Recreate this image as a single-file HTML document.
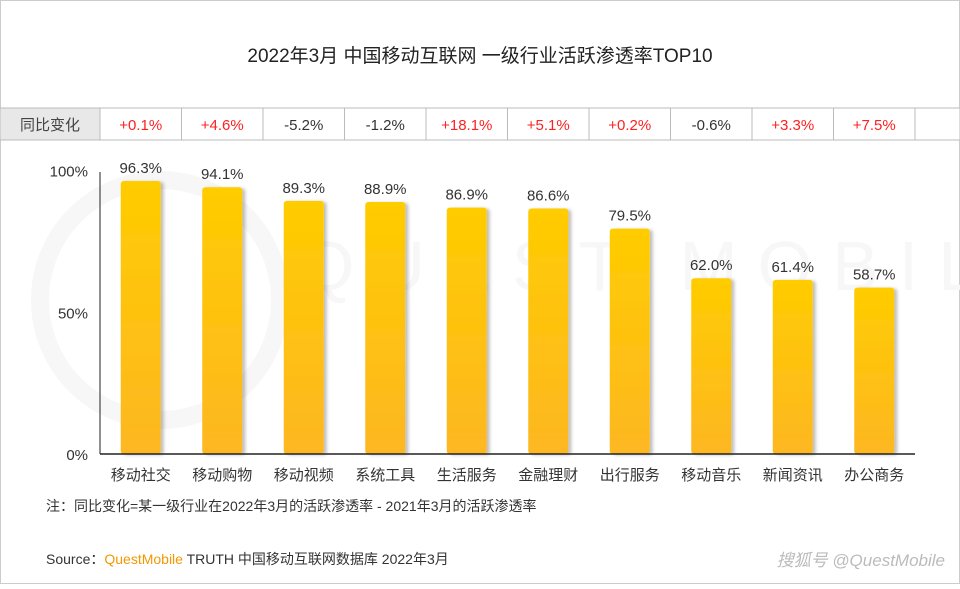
<!DOCTYPE html>
<html><head><meta charset="utf-8"><style>
body{margin:0;background:#fff;}
svg text{font-family:"Liberation Sans","Noto Sans CJK SC",sans-serif;}
</style></head><body>
<svg width="960" height="584" viewBox="0 0 960 584">
<defs>
<linearGradient id="g" x1="0" y1="0" x2="0" y2="1"><stop offset="0" stop-color="#ffcc00"/><stop offset="1" stop-color="#fdb722"/></linearGradient>
<filter id="sh" x="-20%" y="-5%" width="150%" height="110%"><feDropShadow dx="3" dy="1" stdDeviation="1.5" flood-color="#000" flood-opacity="0.25"/></filter>
</defs>
<rect x="0.5" y="0.5" width="959" height="583" fill="#fff" stroke="#ccc"/>
<text x="480" y="62" text-anchor="middle" font-size="19" fill="#222">2022年3月 中国移动互联网 一级行业活跃渗透率TOP10</text>
<g>
<circle cx="160" cy="300" r="120" fill="none" stroke="#f7f7f7" stroke-width="18"/>
<text x="300" y="290" font-size="70" fill="#f7f7f7" letter-spacing="20">QUEST MOBILE</text>
</g>
<g id="table"></g>
<g id="plot"></g>
<text x="46" y="511" font-size="14" fill="#333">注：同比变化=某一级行业在2022年3月的活跃渗透率 - 2021年3月的活跃渗透率</text>
<text x="46" y="564" font-size="14" fill="#333">Source：<tspan fill="#f39800">QuestMobile</tspan> TRUTH 中国移动互联网数据库 2022年3月</text>
<text x="945" y="566" text-anchor="end" font-size="17" fill="#bbb" font-style="italic">搜狐号 @QuestMobile</text>
</svg>
<script>
const categories=["移动社交","移动购物","移动视频","系统工具","生活服务","金融理财","出行服务","移动音乐","新闻资讯","办公商务"];
const values=[96.3,94.1,89.3,88.9,86.9,86.6,79.5,62.0,61.4,58.7];
const yoy=["+0.1%","+4.6%","-5.2%","-1.2%","+18.1%","+5.1%","+0.2%","-0.6%","+3.3%","+7.5%"];
const yTicks=[0,50,100];
const NS="http://www.w3.org/2000/svg";
const x0=100,x1=915,yBase=454,yTop=170.5;
const step=(x1-x0)/categories.length;
const xc=i=>x0+step*(i+0.5);
const y=v=>yBase-(yBase-yTop)*v/100;
function mk(tag,attrs,parent,txt){const e=document.createElementNS(NS,tag);for(const k in attrs)e.setAttribute(k,attrs[k]);if(txt!==undefined)e.textContent=txt;parent.appendChild(e);return e;}
const tb=document.getElementById('table'),pl=document.getElementById('plot');
mk('rect',{x:0,y:108,width:960,height:32,fill:'#fff',stroke:'#bbb'},tb);
const h=mk('rect',{x:0,y:108,width:x0,height:32,fill:'#e8e8e8',stroke:'#bbb'},tb);


const ht=mk('text',{x:50,y:130,'text-anchor':'middle','font-size':15,fill:'#444'},tb,'同比变化');


yoy.forEach((s,i)=>{
  mk('line',{x1:x0+step*(i+1),x2:x0+step*(i+1),y1:108,y2:140,stroke:'#bbb'},tb);
  const t=mk('text',{x:xc(i),y:130,'text-anchor':'middle','font-size':15,fill:s[0]=='+'?'#ff2020':'#333'},tb,s);
  
  
});
yTicks.forEach(v=>{
  const t=mk('text',{x:88,y:y(v)+6,'text-anchor':'end','font-size':15,fill:'#333'},pl,v+'%');
  
  
});
const ax=mk('line',{x1:x0,x2:x0,y1:172,y2:yBase,stroke:'#222','stroke-width':1},pl);


values.forEach((v,i)=>{
  const b=mk('rect',{x:xc(i)-20,y:y(v),width:40,height:yBase-y(v),rx:3,fill:'url(#g)',filter:'url(#sh)'},pl);
  
  
  const l=mk('text',{x:xc(i),y:y(v)-8,'text-anchor':'middle','font-size':15,fill:'#333'},pl,v.toFixed(1)+'%');
  
  
  const c=mk('text',{x:xc(i),y:480,'text-anchor':'middle','font-size':15,fill:'#333'},pl,categories[i]);
  
  
});
const xa=mk('line',{x1:x0,x2:x1,y1:yBase,y2:yBase,stroke:'#222','stroke-width':1.5},pl);


</script>
</body></html>
